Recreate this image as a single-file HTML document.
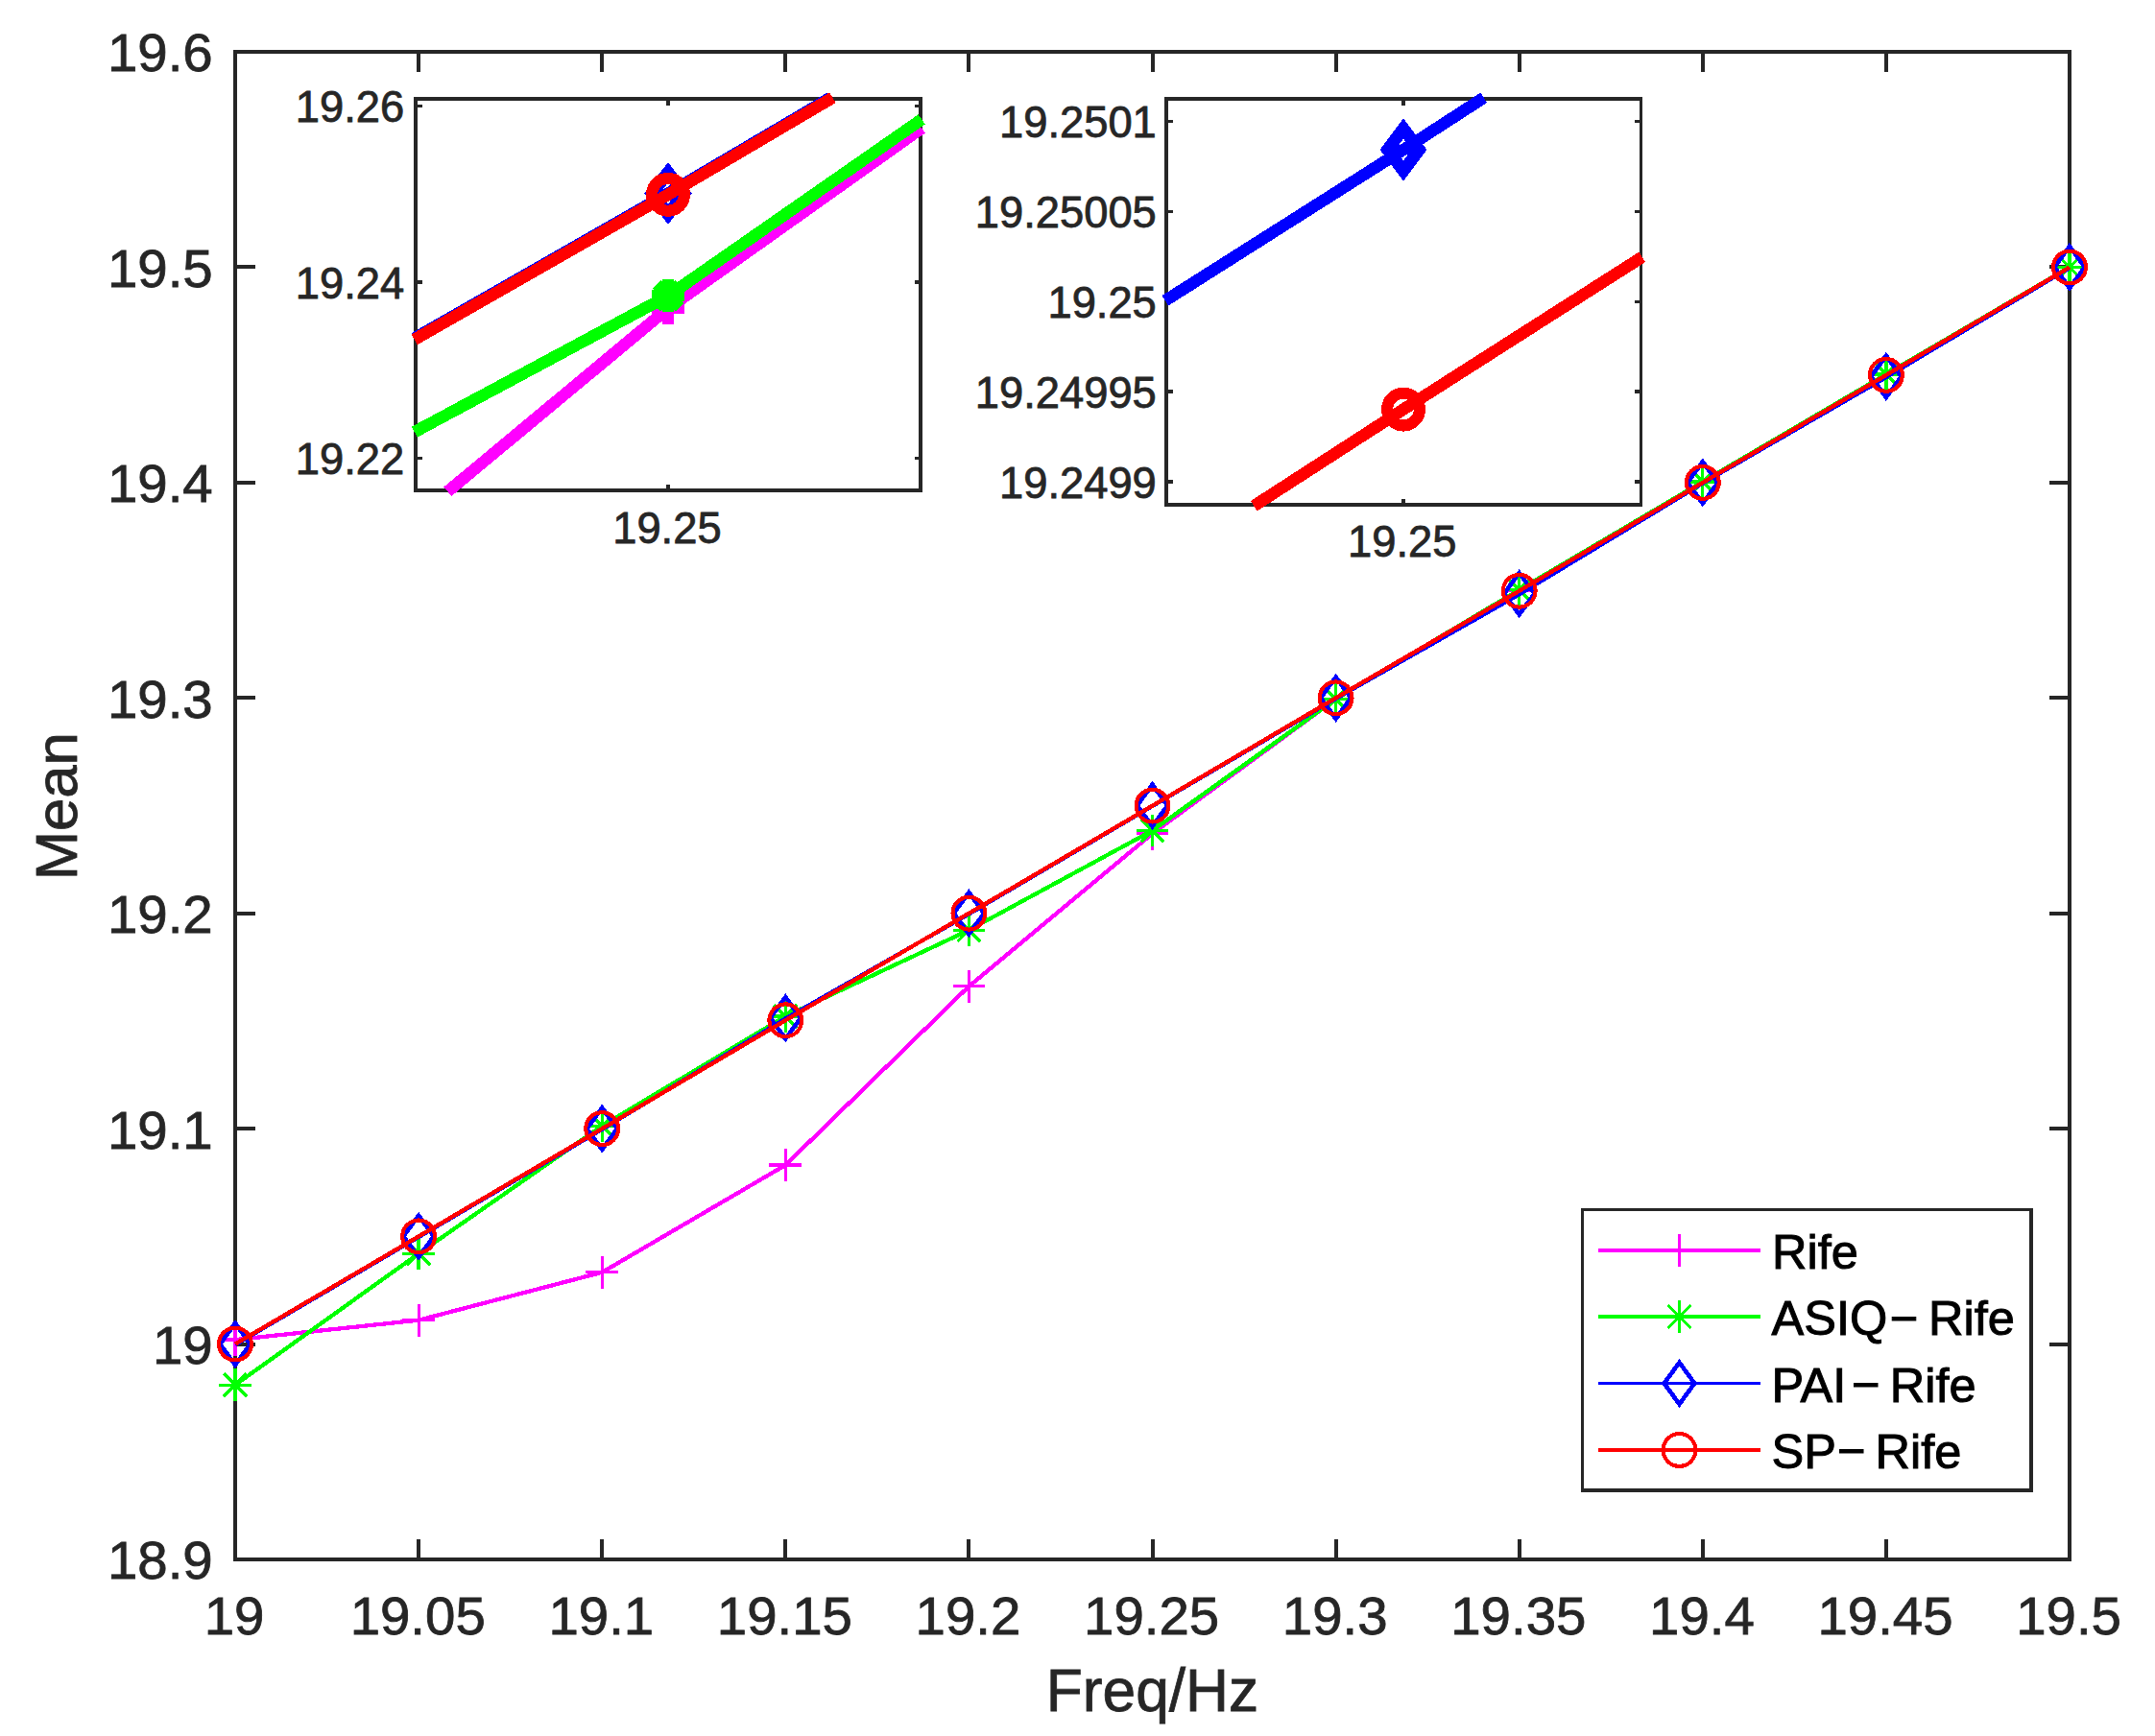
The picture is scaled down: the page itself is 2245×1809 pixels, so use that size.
<!DOCTYPE html>
<html lang="en"><head><meta charset="utf-8"><title>Mean vs Freq/Hz</title>
<style>html,body{margin:0;padding:0;background:#fff}body{width:2245px;height:1809px;overflow:hidden}svg{display:block}text{font-family:'Liberation Sans', Arial, Helvetica, sans-serif}</style></head><body>
<svg width="2245" height="1809" viewBox="0 0 2245 1809">
<rect width="2245" height="1809" fill="#fff"/>
<g stroke="#262626" stroke-width="4" fill="none" shape-rendering="crispEdges">
<path fill="#262626" stroke="none" d="M243 52H2158V1627H243ZM247 56V1623H2154V56Z" fill-rule="evenodd"/>
<path d="M436.1 1625.0V1604.2M436.1 54.0V74.8M627.2 1625.0V1604.2M627.2 54.0V74.8M818.3 1625.0V1604.2M818.3 54.0V74.8M1009.4 1625.0V1604.2M1009.4 54.0V74.8M1200.5 1625.0V1604.2M1200.5 54.0V74.8M1391.6 1625.0V1604.2M1391.6 54.0V74.8M1582.7 1625.0V1604.2M1582.7 54.0V74.8M1773.8 1625.0V1604.2M1773.8 54.0V74.8M1964.9 1625.0V1604.2M1964.9 54.0V74.8M245.0 1400.57H265.8M2156.0 1400.57H2135.2M245.0 1176.14H265.8M2156.0 1176.14H2135.2M245.0 951.71H265.8M2156.0 951.71H2135.2M245.0 727.29H265.8M2156.0 727.29H2135.2M245.0 502.86H265.8M2156.0 502.86H2135.2M245.0 278.43H265.8M2156.0 278.43H2135.2"/>
</g>
<g fill="#262626" stroke="#262626" stroke-width="0.8" font-size="56.4">
<text x="244.1" y="1702.5" text-anchor="middle">19</text>
<text x="435.2" y="1702.5" text-anchor="middle">19.05</text>
<text x="626.3" y="1702.5" text-anchor="middle">19.1</text>
<text x="817.4" y="1702.5" text-anchor="middle">19.15</text>
<text x="1008.5" y="1702.5" text-anchor="middle">19.2</text>
<text x="1199.6" y="1702.5" text-anchor="middle">19.25</text>
<text x="1390.7" y="1702.5" text-anchor="middle">19.3</text>
<text x="1581.8" y="1702.5" text-anchor="middle">19.35</text>
<text x="1772.9" y="1702.5" text-anchor="middle">19.4</text>
<text x="1964" y="1702.5" text-anchor="middle">19.45</text>
<text x="2155.1" y="1702.5" text-anchor="middle">19.5</text>
<text x="221.7" y="74.4" text-anchor="end">19.6</text>
<text x="221.7" y="298.83" text-anchor="end">19.5</text>
<text x="221.7" y="523.26" text-anchor="end">19.4</text>
<text x="221.7" y="747.69" text-anchor="end">19.3</text>
<text x="221.7" y="972.11" text-anchor="end">19.2</text>
<text x="221.7" y="1196.54" text-anchor="end">19.1</text>
<text x="221.7" y="1420.97" text-anchor="end">19</text>
<text x="221.7" y="1645.4" text-anchor="end">18.9</text>
</g>
<text x="1200.5" y="1783.4" font-size="62.3" text-anchor="middle" fill="#262626" stroke="#262626" stroke-width="0.8">Freq/Hz</text>
<text transform="translate(80.0 840.3) rotate(-90)" font-size="61.6" text-anchor="middle" fill="#262626" stroke="#262626" stroke-width="0.8">Mean</text>
<g shape-rendering="crispEdges">
<polyline points="245,1396.08 436.1,1375.66 627.2,1325.84 818.3,1214.07 1009.4,1027.8 1200.5,868.68 1391.6,728.41 1582.7,615.07 1773.8,502.86 1964.9,390.64 2156,278.43" stroke="#ff00ff" stroke-width="4.3" fill="none" stroke-linejoin="round"/>
<path d="M228.1 1396.08H261.9M245 1379.18V1412.98" stroke="#ff00ff" stroke-width="3.2" fill="none"/>
<path d="M419.2 1375.66H453M436.1 1358.76V1392.56" stroke="#ff00ff" stroke-width="3.2" fill="none"/>
<path d="M610.3 1325.84H644.1M627.2 1308.94V1342.74" stroke="#ff00ff" stroke-width="3.2" fill="none"/>
<path d="M801.4 1214.07H835.2M818.3 1197.17V1230.97" stroke="#ff00ff" stroke-width="3.2" fill="none"/>
<path d="M992.5 1027.8H1026.3M1009.4 1010.9V1044.7" stroke="#ff00ff" stroke-width="3.2" fill="none"/>
<path d="M1183.6 868.68H1217.4M1200.5 851.78V885.58" stroke="#ff00ff" stroke-width="3.2" fill="none"/>
<path d="M1374.7 728.41H1408.5M1391.6 711.51V745.31" stroke="#ff00ff" stroke-width="3.2" fill="none"/>
<path d="M1565.8 615.07H1599.6M1582.7 598.17V631.97" stroke="#ff00ff" stroke-width="3.2" fill="none"/>
<path d="M1756.9 502.86H1790.7M1773.8 485.96V519.76" stroke="#ff00ff" stroke-width="3.2" fill="none"/>
<path d="M1948 390.64H1981.8M1964.9 373.74V407.54" stroke="#ff00ff" stroke-width="3.2" fill="none"/>
<path d="M2139.1 278.43H2172.9M2156 261.53V295.33" stroke="#ff00ff" stroke-width="3.2" fill="none"/>
<polyline points="245,1443.21 436.1,1306.31 627.2,1173.23 818.3,1058.99 1009.4,969.22 1200.5,865.53 1391.6,728.41 1582.7,614.62 1773.8,501.96 1964.9,389.97 2156,278.43" stroke="#00ff00" stroke-width="4.3" fill="none" stroke-linejoin="round"/>
<path d="M228.1 1443.21H261.9M245 1426.31V1460.11M233.05 1431.26L256.95 1455.16M233.05 1455.16L256.95 1431.26" stroke="#00ff00" stroke-width="3.3" fill="none"/>
<path d="M419.2 1306.31H453M436.1 1289.41V1323.21M424.15 1294.36L448.05 1318.26M424.15 1318.26L448.05 1294.36" stroke="#00ff00" stroke-width="3.3" fill="none"/>
<path d="M610.3 1173.23H644.1M627.2 1156.33V1190.13M615.25 1161.28L639.15 1185.18M615.25 1185.18L639.15 1161.28" stroke="#00ff00" stroke-width="3.3" fill="none"/>
<path d="M801.4 1058.99H835.2M818.3 1042.09V1075.89M806.35 1047.04L830.25 1070.94M806.35 1070.94L830.25 1047.04" stroke="#00ff00" stroke-width="3.3" fill="none"/>
<path d="M992.5 969.22H1026.3M1009.4 952.32V986.12M997.45 957.27L1021.35 981.17M997.45 981.17L1021.35 957.27" stroke="#00ff00" stroke-width="3.3" fill="none"/>
<path d="M1183.6 865.53H1217.4M1200.5 848.63V882.43M1188.55 853.58L1212.45 877.48M1188.55 877.48L1212.45 853.58" stroke="#00ff00" stroke-width="3.3" fill="none"/>
<path d="M1374.7 728.41H1408.5M1391.6 711.51V745.31M1379.65 716.46L1403.55 740.36M1379.65 740.36L1403.55 716.46" stroke="#00ff00" stroke-width="3.3" fill="none"/>
<path d="M1565.8 614.62H1599.6M1582.7 597.72V631.52M1570.75 602.67L1594.65 626.57M1570.75 626.57L1594.65 602.67" stroke="#00ff00" stroke-width="3.3" fill="none"/>
<path d="M1756.9 501.96H1790.7M1773.8 485.06V518.86M1761.85 490.01L1785.75 513.91M1761.85 513.91L1785.75 490.01" stroke="#00ff00" stroke-width="3.3" fill="none"/>
<path d="M1948 389.97H1981.8M1964.9 373.07V406.87M1952.95 378.02L1976.85 401.92M1952.95 401.92L1976.85 378.02" stroke="#00ff00" stroke-width="3.3" fill="none"/>
<path d="M2139.1 278.43H2172.9M2156 261.53V295.33M2144.05 266.48L2167.95 290.38M2144.05 290.38L2167.95 266.48" stroke="#00ff00" stroke-width="3.3" fill="none"/>
<polyline points="245,1401.27 436.1,1289.06 627.2,1176.84 818.3,1061.49 1009.4,952.41 1200.5,840.02 1391.6,727.99 1582.7,619.36 1773.8,503.56 1964.9,393.14 2156,279.13" stroke="#0000ff" stroke-width="4.3" fill="none" stroke-linejoin="round"/>
<path d="M245 1378.87L260.8 1400.57L245 1422.27L229.2 1400.57Z" stroke="#0000ff" stroke-width="4.6" fill="none" stroke-linejoin="miter" stroke-miterlimit="10"/>
<path d="M436.1 1266.66L451.9 1288.36L436.1 1310.06L420.3 1288.36Z" stroke="#0000ff" stroke-width="4.6" fill="none" stroke-linejoin="miter" stroke-miterlimit="10"/>
<path d="M627.2 1154.44L643 1176.14L627.2 1197.84L611.4 1176.14Z" stroke="#0000ff" stroke-width="4.6" fill="none" stroke-linejoin="miter" stroke-miterlimit="10"/>
<path d="M818.3 1039.09L834.1 1060.79L818.3 1082.49L802.5 1060.79Z" stroke="#0000ff" stroke-width="4.6" fill="none" stroke-linejoin="miter" stroke-miterlimit="10"/>
<path d="M1009.4 930.01L1025.2 951.71L1009.4 973.41L993.6 951.71Z" stroke="#0000ff" stroke-width="4.6" fill="none" stroke-linejoin="miter" stroke-miterlimit="10"/>
<path d="M1200.5 817.62L1216.3 839.32L1200.5 861.02L1184.7 839.32Z" stroke="#0000ff" stroke-width="4.6" fill="none" stroke-linejoin="miter" stroke-miterlimit="10"/>
<path d="M1391.6 705.59L1407.4 727.29L1391.6 748.99L1375.8 727.29Z" stroke="#0000ff" stroke-width="4.6" fill="none" stroke-linejoin="miter" stroke-miterlimit="10"/>
<path d="M1582.7 596.96L1598.5 618.66L1582.7 640.36L1566.9 618.66Z" stroke="#0000ff" stroke-width="4.6" fill="none" stroke-linejoin="miter" stroke-miterlimit="10"/>
<path d="M1773.8 481.16L1789.6 502.86L1773.8 524.56L1758 502.86Z" stroke="#0000ff" stroke-width="4.6" fill="none" stroke-linejoin="miter" stroke-miterlimit="10"/>
<path d="M1964.9 370.74L1980.7 392.44L1964.9 414.14L1949.1 392.44Z" stroke="#0000ff" stroke-width="4.6" fill="none" stroke-linejoin="miter" stroke-miterlimit="10"/>
<path d="M2156 256.73L2171.8 278.43L2156 300.13L2140.2 278.43Z" stroke="#0000ff" stroke-width="4.6" fill="none" stroke-linejoin="miter" stroke-miterlimit="10"/>
<polyline points="245,1400.57 436.1,1288.36 627.2,1176.14 818.3,1063.26 1009.4,951.71 1200.5,839.63 1391.6,727.29 1582.7,615.74 1773.8,502.86 1964.9,390.87 2156,278.43" stroke="#ff0000" stroke-width="4.3" fill="none" stroke-linejoin="round"/>
<circle cx="245" cy="1400.57" r="16.9" stroke="#ff0000" stroke-width="4.1" fill="none"/>
<circle cx="436.1" cy="1288.36" r="16.9" stroke="#ff0000" stroke-width="4.1" fill="none"/>
<circle cx="627.2" cy="1176.14" r="16.9" stroke="#ff0000" stroke-width="4.1" fill="none"/>
<circle cx="818.3" cy="1063.26" r="16.9" stroke="#ff0000" stroke-width="4.1" fill="none"/>
<circle cx="1009.4" cy="951.71" r="16.9" stroke="#ff0000" stroke-width="4.1" fill="none"/>
<circle cx="1200.5" cy="839.63" r="16.9" stroke="#ff0000" stroke-width="4.1" fill="none"/>
<circle cx="1391.6" cy="727.29" r="16.9" stroke="#ff0000" stroke-width="4.1" fill="none"/>
<circle cx="1582.7" cy="615.74" r="16.9" stroke="#ff0000" stroke-width="4.1" fill="none"/>
<circle cx="1773.8" cy="502.86" r="16.9" stroke="#ff0000" stroke-width="4.1" fill="none"/>
<circle cx="1964.9" cy="390.87" r="16.9" stroke="#ff0000" stroke-width="4.1" fill="none"/>
<circle cx="2156" cy="278.43" r="16.9" stroke="#ff0000" stroke-width="4.1" fill="none"/>
</g>
<g shape-rendering="crispEdges">
<rect x="431" y="101" width="530" height="412" fill="#fff" stroke="none"/><path fill="#262626" stroke="none" d="M431 101H961V513H431ZM435 105V509H957V105Z" fill-rule="evenodd"/>
<path d="M696.0 511.0V504.5M696.0 103.0V109.5M433.0 110.5H439.5M959.0 110.5H952.5M433.0 294.0H439.5M959.0 294.0H952.5M433.0 477.5H439.5M959.0 477.5H952.5" stroke="#262626" stroke-width="3.5" fill="none"/>
</g>
<g fill="#262626" stroke="#262626" stroke-width="0.8" font-size="45.3">
<text x="421.2" y="127" text-anchor="end">19.26</text>
<text x="421.2" y="310.5" text-anchor="end">19.24</text>
<text x="421.2" y="494" text-anchor="end">19.22</text>
<text x="694.9" y="565.5" text-anchor="middle">19.25</text>
</g>
<g shape-rendering="crispEdges">
<polyline points="466.39,512.2 696,321.3 960.2,133.49" stroke="#ff00ff" stroke-width="12.5" fill="none" stroke-linejoin="round"/>
<path d="M679.1 321.3H712.9M696 304.4V338.2" stroke="#ff00ff" stroke-width="12" fill="none"/>
<polyline points="431.8,450.11 696,308.3 960.2,124.4" stroke="#00ff00" stroke-width="12.5" fill="none" stroke-linejoin="round"/>
<path d="M679.1 308.3H712.9M696 291.4V325.2M684.05 296.35L707.95 320.25M684.05 320.25L707.95 296.35" stroke="#00ff00" stroke-width="12" fill="none"/>
<polyline points="431.8,352.53 696,201.5 865.19,101.8" stroke="#0000ff" stroke-width="12.5" fill="none" stroke-linejoin="round"/>
<path d="M696 179.6L712.5 201.5L696 223.4L679.5 201.5Z" stroke="#0000ff" stroke-width="12.9" fill="none" stroke-linejoin="miter" stroke-miterlimit="10"/>
<polyline points="431.8,353.83 696,202.8 867.4,101.8" stroke="#ff0000" stroke-width="12.5" fill="none" stroke-linejoin="round"/>
<circle cx="696" cy="202.8" r="16.9" stroke="#ff0000" stroke-width="12.1" fill="none"/>
</g>
<g shape-rendering="crispEdges">
<rect x="1213" y="101" width="498" height="427" fill="#fff" stroke="none"/><path fill="#262626" stroke="none" d="M1213 101H1711V528H1213ZM1217 105V524H1708V105Z" fill-rule="evenodd"/>
<path d="M1462.0 526.0V519.5M1462.0 103.0V109.5M1215.0 126.7H1221.5M1709.5 126.7H1703M1215.0 220.5H1221.5M1709.5 220.5H1703M1215.0 314.3H1221.5M1709.5 314.3H1703M1215.0 408.2H1221.5M1709.5 408.2H1703M1215.0 502.0H1221.5M1709.5 502.0H1703" stroke="#262626" stroke-width="3.5" fill="none"/>
</g>
<g fill="#262626" stroke="#262626" stroke-width="0.8" font-size="45.3">
<text x="1204.8" y="143.2" text-anchor="end">19.2501</text>
<text x="1204.8" y="237" text-anchor="end">19.25005</text>
<text x="1204.8" y="330.8" text-anchor="end">19.25</text>
<text x="1204.8" y="424.7" text-anchor="end">19.24995</text>
<text x="1204.8" y="518.5" text-anchor="end">19.2499</text>
<text x="1460.8" y="579.5" text-anchor="middle">19.25</text>
</g>
<g shape-rendering="crispEdges">
<polyline points="1213.8,313.31 1462,156 1545.77,101.8" stroke="#0000ff" stroke-width="12.5" fill="none" stroke-linejoin="round"/>
<path d="M1462 134.1L1478.5 156L1462 177.9L1445.5 156Z" stroke="#0000ff" stroke-width="12.9" fill="none" stroke-linejoin="miter" stroke-miterlimit="10"/>
<polyline points="1306.31,527.2 1462,426.6 1710.7,267.88" stroke="#ff0000" stroke-width="12.5" fill="none" stroke-linejoin="round"/>
<circle cx="1462" cy="426.6" r="16.9" stroke="#ff0000" stroke-width="12.1" fill="none"/>
</g>
<g shape-rendering="crispEdges">
<rect x="1647" y="1259" width="471" height="296" fill="#fff" stroke="none"/><path fill="#262626" stroke="none" d="M1647 1259H2118V1555H1647ZM1650 1262V1551H2114V1262Z" fill-rule="evenodd"/>
<path d="M1665 1303.0H1834" stroke="#ff00ff" stroke-width="4"/>
<path d="M1732.6 1303H1766.4M1749.5 1286.1V1319.9" stroke="#ff00ff" stroke-width="3.2" fill="none"/>
<path d="M1665 1372.0H1834" stroke="#00ff00" stroke-width="4"/>
<path d="M1732.6 1372H1766.4M1749.5 1355.1V1388.9M1737.55 1360.05L1761.45 1383.95M1737.55 1383.95L1761.45 1360.05" stroke="#00ff00" stroke-width="3.3" fill="none"/>
<path d="M1665 1441.5H1834" stroke="#0000ff" stroke-width="3"/>
<path d="M1749.5 1419.8L1765.3 1441.5L1749.5 1463.2L1733.7 1441.5Z" stroke="#0000ff" stroke-width="4.6" fill="none" stroke-linejoin="miter" stroke-miterlimit="10"/>
<path d="M1665 1511.0H1834" stroke="#ff0000" stroke-width="4"/>
<circle cx="1749.5" cy="1511" r="16.9" stroke="#ff0000" stroke-width="4.1" fill="none"/>
</g>
<g fill="#000" stroke="#000" stroke-width="1.0" font-size="50.5">
<text x="1846" y="1322.0">Rife</text>
<text y="1391.3"><tspan x="1845.6">ASIQ</tspan><tspan x="1968.7" dy="-0.8">−</tspan><tspan x="1995.06" dy="0.8"> Rife</tspan></text>
<text y="1460.8"><tspan x="1845.6">PAI</tspan><tspan x="1928.9" dy="-0.8">−</tspan><tspan x="1954.76" dy="0.8"> Rife</tspan></text>
<text y="1529.8"><tspan x="1845.6">SP</tspan><tspan x="1913.9" dy="-0.8">−</tspan><tspan x="1939.56" dy="0.8"> Rife</tspan></text>
</g>
</svg></body></html>
